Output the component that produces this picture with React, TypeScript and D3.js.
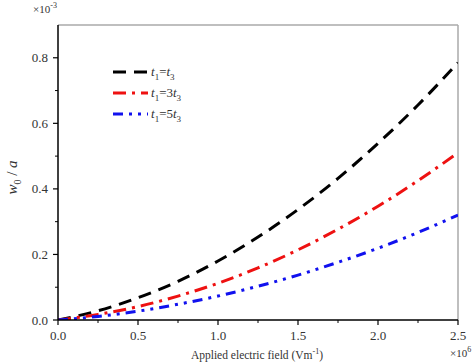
import React from 'react';
import * as d3 from 'd3';

// applied electric field (x10^6 V/m)
const field = [0, 0.25, 0.5, 0.75, 1.0, 1.25, 1.5, 1.75, 2.0, 2.25, 2.5];
// w0/a (x10^-3) for each thickness ratio
const ratioEq = [0, 0.028, 0.068, 0.118, 0.18, 0.253, 0.337, 0.432, 0.539, 0.656, 0.785];
const ratio3 = [0, 0.017, 0.041, 0.073, 0.112, 0.159, 0.214, 0.277, 0.347, 0.425, 0.51];
const ratio5 = [0, 0.011, 0.027, 0.048, 0.073, 0.103, 0.137, 0.176, 0.219, 0.267, 0.32];
const seriesNames = ['eq', '3', '5'];
const xTicks = [0, 0.5, 1.0, 1.5, 2.0, 2.5];
const yTicks = [0, 0.2, 0.4, 0.6, 0.8];

const W = 474, H = 364;
const margin = { top: 25, right: 16, bottom: 44, left: 58 };

export default function App() {
  const x = d3.scaleLinear().domain([0, 2.5]).range([margin.left, W - margin.right]);
  const y = d3.scaleLinear().domain([0, 0.9]).range([H - margin.bottom, margin.top]);
  const line = d3.line<number>().x((d, i) => x(field[i])).y(d => y(d)).curve(d3.curveMonotoneX);

  const series = [
    { key: seriesNames[0], vals: ratioEq, color: '#000000', dash: '13,8', coef: '' },
    { key: seriesNames[1], vals: ratio3, color: '#ee1111', dash: '13,6,3,6', coef: '3' },
    { key: seriesNames[2], vals: ratio5, color: '#1111ee', dash: '10,6,3,6,3,6', coef: '5' },
  ];

  const x0 = x(0), x1 = x(2.5), y0 = y(0), y1 = y(0.9);
  const minorX = d3.range(0.25, 2.5, 0.5);
  const minorY = d3.range(0.1, 0.9, 0.2);
  const font = '"Liberation Serif", "Times New Roman", serif';
  const txt = '#333';

  return (
    <svg width={W} height={H} style={{ position: 'absolute', left: 0, top: 0, background: '#fff' }} fontFamily={font}>
      <defs>
        <clipPath id="plot">
          <rect x={x0} y={y1} width={x1 - x0} height={y0 - y1} />
        </clipPath>
      </defs>
      {/* frame */}
      <line x1={x0} x2={x1} y1={y1} y2={y1} stroke="#aaa" strokeWidth={1.5} />
      <line x1={x1} x2={x1} y1={y1} y2={y0} stroke="#aaa" strokeWidth={1.5} />

      {/* curves */}
      <g clipPath="url(#plot)">
        {series.map(s => (
          <path key={s.key} d={line(s.vals) || ''} fill="none" stroke={s.color} strokeWidth={3} strokeDasharray={s.dash} />
        ))}
      </g>

      {/* axes */}
      <line x1={x0} x2={x1} y1={y0} y2={y0} stroke="#000" strokeWidth={1.5} />
      <line x1={x0} x2={x0} y1={y1} y2={y0} stroke="#000" strokeWidth={1.5} />
      {xTicks.map(t => (
        <g key={'x' + t}>
          <line x1={x(t)} x2={x(t)} y1={y0} y2={y0 + 5} stroke="#000" strokeWidth={1.2} />
          <text x={x(t)} y={y0 + 20} textAnchor="middle" fontSize={13} fill={txt}>{t.toFixed(1)}</text>
        </g>
      ))}
      {minorX.map(t => (
        <line key={'mx' + t} x1={x(t)} x2={x(t)} y1={y0} y2={y0 + 3} stroke="#000" strokeWidth={1} />
      ))}
      {yTicks.map(t => (
        <g key={'y' + t}>
          <line x1={x0 - 5} x2={x0} y1={y(t)} y2={y(t)} stroke="#000" strokeWidth={1.2} />
          <text x={x0 - 10} y={y(t) + 4.5} textAnchor="end" fontSize={13} fill={txt}>{t.toFixed(1)}</text>
        </g>
      ))}
      {minorY.map(t => (
        <line key={'my' + t} x1={x0 - 3} x2={x0} y1={y(t)} y2={y(t)} stroke="#000" strokeWidth={1} />
      ))}

      {/* multipliers */}
      <text x={33} y={13} fontSize={11} fill={txt}>×10<tspan dy={-5} fontSize={8}>-3</tspan></text>
      <text x={450} y={357} fontSize={11} fill={txt}>×10<tspan dy={-5} fontSize={8}>6</tspan></text>

      {/* axis titles */}
      <text x={257} y={359} textAnchor="middle" fontSize={11.5} fill={txt}>
        Applied electric field (Vm<tspan dy={-5} fontSize={8}>-1</tspan><tspan dy={5}>)</tspan>
      </text>
      <text transform={`translate(17,${(y0 + y1) / 2 + 5}) rotate(-90)`} textAnchor="middle" fontSize={15} fill={txt}>
        <tspan fontStyle="italic">w</tspan><tspan dy={4} fontSize={10}>0</tspan><tspan dy={-4}> / </tspan><tspan fontStyle="italic">a</tspan>
      </text>

      {/* legend */}
      {series.map((s, i) => {
        const ly = 72 + i * 21;
        return (
          <g key={'lg' + s.key}>
            <line x1={113} x2={148} y1={ly} y2={ly} stroke={s.color} strokeWidth={3} strokeDasharray={s.dash} />
            <text x={151} y={ly + 4} fontSize={13} fill={txt}>
              <tspan fontStyle="italic">t</tspan><tspan dy={4} fontSize={9}>1</tspan>
              <tspan dy={-4}>={s.coef}</tspan><tspan fontStyle="italic">t</tspan><tspan dy={4} fontSize={9}>3</tspan>
            </text>
          </g>
        );
      })}
    </svg>
  );
}
